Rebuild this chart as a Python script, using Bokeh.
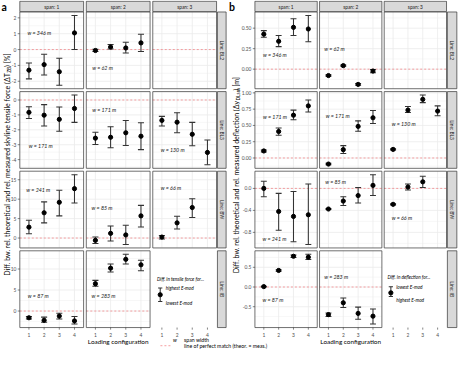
import math
from bokeh.plotting import figure
from bokeh.models import Range1d
from bokeh.core.properties import value
from bokeh.embed import file_html
from bokeh.resources import INLINE

# ---------------- data ----------------
line_names = ["BL2", "BL3", "BW", "IB"]
span_names = ["span: 1", "span: 2", "span: 3"]
config_ticks = [1, 2, 3, 4]
config_tick_labels = ["1", "2", "3", "4"]

# Panel a: difference in skyline tensile force [%]
force_line = ["BL2"] * 8 + ["BL3"] * 12 + ["BW"] * 11 + ["IB"] * 8
force_span = [1, 1, 1, 1, 2, 2, 2, 2,
              1, 1, 1, 1, 2, 2, 2, 2, 3, 3, 3, 3,
              1, 1, 1, 1, 2, 2, 2, 2, 3, 3, 3,
              1, 1, 1, 1, 2, 2, 2, 2]
force_cfg = [1, 2, 3, 4, 1, 2, 3, 4,
             1, 2, 3, 4, 1, 2, 3, 4, 1, 2, 3, 4,
             1, 2, 3, 4, 1, 2, 3, 4, 1, 2, 3,
             1, 2, 3, 4, 1, 2, 3, 4]
force_mid = [-1.30, -0.95, -1.40, 1.05, -0.06, 0.16, 0.10, 0.42,
             -0.83, -1.02, -1.30, -0.57, -2.56, -2.50, -2.20, -2.43, -1.37, -1.49, -2.30, -3.52,
             2.8, 6.5, 9.2, 12.7, -0.6, 1.2, 0.8, 5.7, 0.25, 3.9, 7.85,
             -1.6, -2.2, -1.2, -2.35, 6.5, 10.2, 12.3, 11.0]
force_low = [-1.85, -1.60, -2.25, 0.00, -0.12, 0.04, -0.22, -0.12,
             -1.24, -1.75, -2.10, -1.50, -2.99, -3.20, -3.05, -3.33, -1.75, -2.20, -3.07, -4.35,
             1.1, 3.9, 5.7, 9.0, -1.4, -0.75, -1.65, 2.85, -0.25, 2.3, 5.3,
             -1.9, -2.65, -1.9, -3.1, 5.9, 9.3, 11.2, 9.6]
force_high = [-0.85, -0.30, -0.55, 2.15, 0.02, 0.32, 0.46, 0.97,
              -0.45, -0.31, -0.47, 0.33, -2.17, -1.80, -1.37, -1.53, -1.10, -0.85, -1.50, -2.69,
              4.6, 9.3, 12.3, 16.3, 0.25, 3.1, 3.3, 8.4, 0.65, 5.6, 10.1,
              -1.3, -1.45, -0.55, -1.3, 7.3, 11.2, 13.5, 12.1]

# Panel b: difference in deflection [m]
defl_line = force_line
defl_span = force_span
defl_cfg = force_cfg
defl_mid = [0.427, 0.34, 0.51, 0.49, -0.078, 0.043, -0.186, -0.023,
            0.108, 0.407, 0.657, 0.80, -0.093, 0.128, 0.485, 0.618, 0.132, 0.735, 0.90, 0.72,
            0.0, -0.42, -0.51, -0.48, -0.375, -0.23, -0.13, 0.055, -0.29, 0.026, 0.12,
            0.01, 0.42, 0.78, 0.757, -0.70, -0.40, -0.67, -0.74]
defl_low = [0.39, 0.275, 0.41, 0.335, -0.086, 0.036, -0.196, -0.043,
            0.093, 0.35, 0.588, 0.706, -0.105, 0.07, 0.41, 0.53, 0.124, 0.70, 0.85, 0.65,
            -0.15, -0.76, -0.97, -1.02, -0.385, -0.31, -0.265, -0.13, -0.30, -0.03, 0.015,
            0.0, 0.40, 0.75, 0.70, -0.75, -0.52, -0.82, -0.94]
defl_high = [0.47, 0.41, 0.615, 0.655, -0.070, 0.050, -0.176, -0.003,
             0.123, 0.46, 0.735, 0.89, -0.081, 0.19, 0.57, 0.73, 0.140, 0.79, 0.966, 0.80,
             0.13, -0.09, -0.055, 0.08, -0.365, -0.15, 0.015, 0.25, -0.28, 0.08, 0.22,
             0.02, 0.44, 0.81, 0.83, -0.66, -0.28, -0.51, -0.56]

# span-width annotations (placed in data coordinates of each facet)
w_text = ["w = 346 m", "w = 62 m", "w = 171 m", "w = 171 m", "w = 130 m",
          "w = 241 m", "w = 85 m", "w = 66 m", "w = 87 m", "w = 283 m"]
w_line = ["BL2", "BL2", "BL3", "BL3", "BL3", "BW", "BW", "BW", "IB", "IB"]
w_span = [1, 2, 1, 2, 3, 1, 2, 3, 1, 2]
force_w_x = [0.91, 0.79, 0.99, 0.79, 0.92, 0.83, 0.75, 0.93, 0.93, 0.75]
force_w_y = [1.05, -1.19, -3.1, -0.68, -3.37, 12.3, 7.8, 12.8, 3.5, 3.5]
defl_w_x = [0.95, 0.71, 0.95, 0.82, 0.91, 0.91, 0.78, 0.91, 0.91, 0.71]
defl_w_y = [0.171, 0.244, 0.632, 0.647, 0.52, -0.917, 0.114, -0.545, -0.33, 0.266]

# y ticks per row
force_ticks = [[-2, -1, 0, 1, 2], [-4, -3, -2, -1, 0], [0, 5, 10, 15], [0, 5, 10]]
force_tick_labels = [["-2", "-1", "0", "1", "2"], ["-4", "-3", "-2", "-1", "0"],
                     ["0", "5", "10", "15"], ["0", "5", "10"]]
defl_ticks = [[0, 0.25, 0.5], [0, 0.25, 0.5, 0.75, 1.0], [-0.8, -0.4, 0.0], [-0.5, 0.0, 0.5]]
defl_tick_labels = [["0.00", "0.25", "0.50"], ["0.00", "0.25", "0.50", "0.75", "1.00"],
                    ["-0.8", "-0.4", "0.0"], ["-0.5", "0.0", "0.5"]]

# ---------------- layout (reference pixel space) ----------------
FONT = "Lato"
ROW_TOPS = [12.0, 95.25, 178.5, 261.75]
ROW_H = 80.25
STRIP_TOP, STRIP_BOT = 0.8, 11.6
XLO, XHI = 0.4, 4.6

p = figure(width=458, height=350, x_range=Range1d(0, 474), y_range=Range1d(366, 0),
           output_backend="svg", toolbar_location=None, min_border=0,
           x_axis_location=None, y_axis_location=None)
p.grid.visible = False
p.outline_line_color = None
p.background_fill_color = "white"
p.border_fill_color = "white"

GRID = "#EBEBEB"
BORDER = "#333333"
TICKCOL = "#4D4D4D"
ZERO = "#F4878A"
DASH = "2 2"


def minor_of(ticks, lo, hi):
    step = ticks[1] - ticks[0]
    cands = [ticks[0] - step / 2 + k * step for k in range(len(ticks) + 1)]
    return [m for m in cands if lo <= m <= hi]


def draw_panel(col_x, col_w, rstrip, lines, spans, cfgs, mids, lows, highs,
               ticks_all, labels_all, wx, wy, tick_dx):
    for r, ln in enumerate(line_names):
        idx = [i for i in range(len(lines)) if lines[i] == ln]
        vals = [lows[i] for i in idx] + [highs[i] for i in idx]
        lo, hi = min(vals), max(vals)
        pad = 0.05 * (hi - lo)
        ylo, yhi = lo - pad, hi + pad
        yt = ROW_TOPS[r]
        yb = yt + ROW_H
        dy = (yhi - ylo) / ROW_H  # data units per ref px
        ticks = ticks_all[r]
        for c in range(3):
            x0 = col_x[c]
            x1 = x0 + col_w
            sub = p.subplot(x_source=Range1d(XLO, XHI), y_source=Range1d(ylo, yhi),
                            x_target=Range1d(x0, x1), y_target=Range1d(yb, yt))
            dx = (XHI - XLO) / col_w
            has_panel = not (ln == "IB" and c == 2)
            if has_panel:
                mnr = minor_of(ticks, ylo, yhi)
                sub.segment(x0=[XLO] * len(mnr), y0=mnr, x1=[XHI] * len(mnr), y1=mnr,
                            line_color=GRID, line_width=0.4)
                tk = [t for t in ticks if ylo <= t <= yhi]
                sub.segment(x0=[XLO] * len(tk), y0=tk, x1=[XHI] * len(tk), y1=tk,
                            line_color=GRID, line_width=0.8)
                sub.segment(x0=config_ticks, y0=[ylo] * 4, x1=config_ticks, y1=[yhi] * 4,
                            line_color=GRID, line_width=0.8)
                sub.segment(x0=[XLO], y0=[0], x1=[XHI], y1=[0],
                            line_color=ZERO, line_width=0.8, line_dash=DASH)
                fi = [i for i in idx if spans[i] == c + 1]
                if fi:
                    xs = [cfgs[i] for i in fi]
                    lw = [lows[i] for i in fi]
                    hg = [highs[i] for i in fi]
                    md = [mids[i] for i in fi]
                    sub.segment(x0=xs, y0=lw, x1=xs, y1=hg, line_color=BORDER, line_width=1.05)
                    sub.segment(x0=[x - 0.2 for x in xs], y0=lw, x1=[x + 0.2 for x in xs], y1=lw,
                                line_color=BORDER, line_width=1.05)
                    sub.segment(x0=[x - 0.2 for x in xs], y0=hg, x1=[x + 0.2 for x in xs], y1=hg,
                                line_color=BORDER, line_width=1.05)
                    sub.scatter(xs, md, size=4.2, color="black")
                wi = [k for k in range(len(w_text)) if w_line[k] == ln and w_span[k] == c + 1]
                if wi:
                    sub.text(x=[wx[k] for k in wi], y=[wy[k] for k in wi],
                             text=[w_text[k] for k in wi], text_font=value(FONT),
                             text_font_size="5.3px", text_font_style="italic",
                             text_align="left", text_baseline="middle", text_color="#1A1A1A")
                p.quad(left=[x0], right=[x1], top=[yt], bottom=[yb], fill_color=None,
                       line_color=BORDER, line_width=0.7)
            if c == 0:
                tk = [t for t in ticks if ylo <= t <= yhi]
                lb = [labels_all[r][j] for j, t in enumerate(ticks) if ylo <= t <= yhi]
                sub.segment(x0=[XLO - 2.2 * dx] * len(tk), y0=tk, x1=[XLO] * len(tk), y1=tk,
                            line_color=BORDER, line_width=0.6)
                sub.text(x=[XLO] * len(tk), y=tk, text=lb, x_offset=tick_dx,
                         text_font=value(FONT), text_font_size="4.9px", text_color=TICKCOL,
                         text_align="right", text_baseline="middle")
            if r == 3:
                sub.segment(x0=config_ticks, y0=[ylo] * 4, x1=config_ticks,
                            y1=[ylo - 2.2 * dy] * 4, line_color=BORDER, line_width=0.6)
                sub.text(x=config_ticks, y=[ylo] * 4, text=config_tick_labels, y_offset=7.5,
                         text_font=value(FONT), text_font_size="4.9px", text_color=TICKCOL,
                         text_align="center", text_baseline="middle")
        # right strip
        p.quad(left=[rstrip[0]], right=[rstrip[1]], top=[yt], bottom=[yb],
               fill_color="#D9D9D9", line_color=BORDER, line_width=0.7)
        p.text(x=[(rstrip[0] + rstrip[1]) / 2], y=[yt + ROW_H / 2], text=["Line: " + ln],
               angle=-math.pi / 2, text_font=value(FONT), text_font_size="4.8px",
               text_color="#1A1A1A", text_align="center", text_baseline="middle")
    for c in range(3):
        x0 = col_x[c]
        p.quad(left=[x0], right=[x0 + col_w], top=[STRIP_TOP], bottom=[STRIP_BOT],
               fill_color="#D9D9D9", line_color=BORDER, line_width=0.7)
        p.text(x=[x0 + col_w / 2], y=[(STRIP_TOP + STRIP_BOT) / 2 + 0.3], text=[span_names[c]],
               text_font=value(FONT), text_font_size="4.8px", text_color="#1A1A1A",
               text_align="center", text_baseline="middle")


A_COLS = [20.0, 88.8, 157.6]
A_W = 66.0
B_COLS = [263.3, 330.2, 397.1]
B_W = 64.5

draw_panel(A_COLS, A_W, (224.5, 233.5), force_line, force_span, force_cfg,
           force_mid, force_low, force_high, force_ticks, force_tick_labels,
           force_w_x, force_w_y, -3.5)
draw_panel(B_COLS, B_W, (462.5, 472.3), defl_line, defl_span, defl_cfg,
           defl_mid, defl_low, defl_high, defl_ticks, defl_tick_labels,
           defl_w_x, defl_w_y, -3.5)

# panel tags
p.text(x=[1.0, 236.5], y=[7.0, 7.0], text=["a", "b"], text_font=value(FONT),
       text_font_size="10.5px", text_font_style="bold", text_align="left",
       text_baseline="middle", text_color="black")

# y titles with subscripts
TSIZE = "7px"
SSIZE = "4.8px"
def ytitle(x, ya, main, subs, tail, sub_len):
    p.text(x=[x], y=[ya], text=[main], angle=math.pi / 2, text_font=value(FONT),
           text_font_size=TSIZE, text_align="right", text_baseline="middle", text_color="black")
    p.text(x=[x + 1.8], y=[ya - 0.4], text=[subs], angle=math.pi / 2, text_font=value(FONT),
           text_font_size=SSIZE, text_align="left", text_baseline="middle", text_color="black")
    p.text(x=[x], y=[ya - sub_len], text=[tail], angle=math.pi / 2, text_font=value(FONT),
           text_font_size=TSIZE, text_align="left", text_baseline="middle", text_color="black")

ytitle(7.0, 76.0, "Diff. bw. rel. theoretical and rel. measured skyline tensile force (\u0394T",
       "ZB", ") [%]", 6.5)
ytitle(243.5, 105.0, "Diff. bw. rel. theoretical and rel. measured deflection (\u0394y",
       "DLsm", ") [m]", 11.0)

# x titles
p.text(x=[A_COLS[0] + (A_COLS[2] + A_W - A_COLS[0]) / 2, B_COLS[0] + (B_COLS[2] + B_W - B_COLS[0]) / 2],
       y=[357.0, 357.0], text=["Loading configuration", "Loading configuration"],
       text_font=value(FONT), text_font_size="6.4px", text_align="center",
       text_baseline="middle", text_color="black")

# bottom legend
p.text(x=[180.5], y=[354.5], text=["w"], text_font=value(FONT), text_font_size="5.4px",
       text_font_style="italic", text_align="center", text_baseline="middle", text_color="black")
p.text(x=[190.0], y=[354.5], text=["span width"], text_font=value(FONT), text_font_size="5.2px",
       text_align="left", text_baseline="middle", text_color="black")
p.segment(x0=[165.5], y0=[361.0], x1=[177.0], y1=[361.0], line_color=ZERO,
          line_width=0.8, line_dash=DASH)
p.text(x=[190.0], y=[361.0], text=["line of perfect match (theor. = meas.)"],
       text_font=value(FONT), text_font_size="5.2px", text_align="left",
       text_baseline="middle", text_color="black")

# inner legends (errorbar keys)
def key(x, ytop, ybot, ypt, title, ty, top_txt, bot_txt, tx, ty1, ty2):
    p.text(x=[tx - 9], y=[ty], text=[title], text_font=value(FONT), text_font_size="4.7px",
           text_font_style="italic", text_align="left", text_baseline="middle", text_color="black")
    p.segment(x0=[x, x - 2.2, x - 2.2], y0=[ytop, ytop, ybot], x1=[x, x + 2.2, x + 2.2],
              y1=[ybot, ytop, ybot], line_color=BORDER, line_width=1.05)
    p.scatter(x=[x], y=[ypt], size=4.2, color="black")
    p.text(x=[tx, tx], y=[ty1, ty2], text=[top_txt, bot_txt], text_font=value(FONT),
           text_font_size="4.7px", text_font_style="italic", text_align="left",
           text_baseline="middle", text_color="black")

key(165.3, 300.7, 314.7, 307.7, "Diff. in tensile force for...", 291.0,
    "highest E-mod", "lowest E-mod", 171.0, 301.0, 316.0)
key(404.0, 299.3, 309.5, 305.7, "Diff. in deflection for...", 289.3,
    "lowest E-mod", "highest E-mod", 409.5, 299.7, 313.7)

open("out.html", "w").write(file_html(p, INLINE))
